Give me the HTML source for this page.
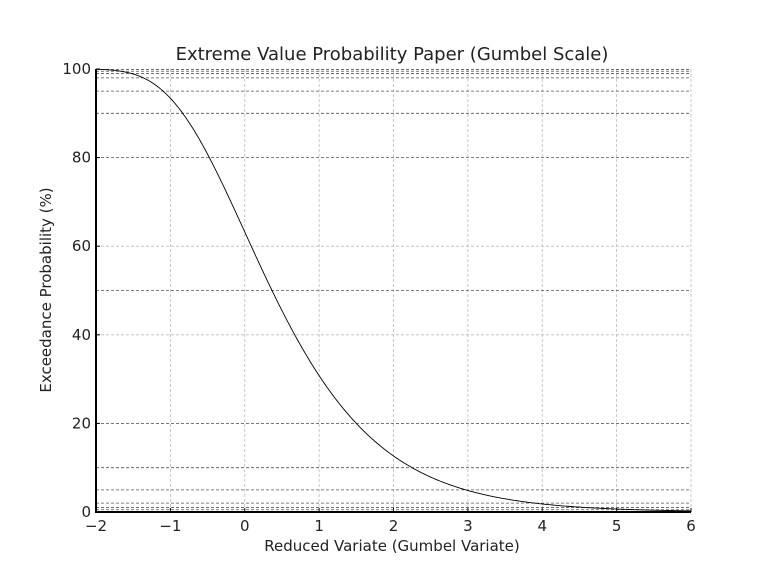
<!DOCTYPE html>
<html><head><meta charset="utf-8"><style>body{margin:0;background:#fff}svg{display:block}text{font-family:"DejaVu Sans","Liberation Sans",sans-serif;fill:#222}</style></head>
<body>
<svg id="s" width="768" height="576" viewBox="0 0 768 576" xmlns="http://www.w3.org/2000/svg">
<g id="g"></g>
<text x="392" y="60" font-size="18" text-anchor="middle">Extreme Value Probability Paper (Gumbel Scale)</text>
<text x="392" y="551" font-size="15" text-anchor="middle">Reduced Variate (Gumbel Variate)</text>
<text transform="translate(51,290) rotate(-90)" font-size="15" text-anchor="middle">Exceedance Probability (%)</text>
</svg>
<script>
var g=document.getElementById('g'),h='';
function X(v){return 96+(v+2)*74.375}
function Y(p){return 512-p*4.43}
for(var v=-2;v<=6;v++){h+='<line x1="'+X(v)+'" y1="69" x2="'+X(v)+'" y2="512" stroke="#bbb" stroke-width="0.8" stroke-dasharray="3,2"/>';
h+='<line x1="'+X(v)+'" y1="512" x2="'+X(v)+'" y2="508" stroke="#000"/>';
h+='<text x="'+X(v)+'" y="531" font-size="15" text-anchor="middle">'+(v<0?'\u2212'+(-v):v)+'</text>';}
[20,40,60].forEach(function(p){h+='<line x1="96" y1="'+Y(p)+'" x2="691" y2="'+Y(p)+'" stroke="#bbb" stroke-width="0.8" stroke-dasharray="3,2"/>';});
[0.1,0.5,1,2,5,10,20,50,80,90,95,98,99,99.5,99.9].forEach(function(p){h+='<line x1="96" y1="'+Y(p)+'" x2="691" y2="'+Y(p)+'" stroke="#555" stroke-width="0.8" stroke-dasharray="3,2"/>';});
[0,20,40,60,80,100].forEach(function(p){h+='<line x1="96" y1="'+Y(p)+'" x2="100" y2="'+Y(p)+'" stroke="#000"/><text x="91" y="'+(Y(p)+5)+'" font-size="15" text-anchor="end">'+p+'</text>';});
var d='';for(var i=0;i<=400;i++){var v=-2+8*i/400,p=100*(1-Math.exp(-Math.exp(-v)));d+=(i?'L':'M')+X(v).toFixed(2)+','+Y(p).toFixed(2);}
h+='<path d="'+d+'" fill="none" stroke="#000" stroke-width="0.9"/>';
h+='<line x1="96" y1="69" x2="96" y2="513" stroke="#000" stroke-width="2"/><line x1="95" y1="512" x2="691" y2="512" stroke="#000" stroke-width="2"/>';
g.innerHTML=h;
</script>
</body></html>
